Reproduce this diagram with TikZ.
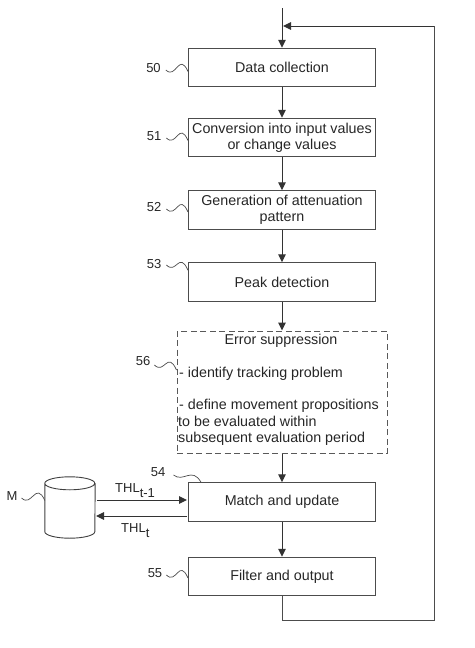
\documentclass[tikz,border=0pt]{standalone}
\usepackage{fontspec}
\setmainfont{Liberation Sans}
\usetikzlibrary{arrows.meta,calc}
\tikzset{
  x=1pt,y=-1pt,
  every node/.style={font=\fontsize{14.3}{16}\selectfont,text=black!85},
  stepbox/.style={draw=black!70,line width=1pt,minimum width=187pt,minimum height=38.5pt,inner sep=0pt,align=center,anchor=center},
  errbox/.style={draw=black!65,line width=1pt,dash pattern=on 6pt off 3.5pt,minimum width=210pt,minimum height=122pt,inner sep=0pt},
  flow/.style={draw=black!80,line width=1pt,-{Triangle[length=8pt,width=7.5pt]}},
  plainline/.style={draw=black!70,line width=1pt},
  squig/.style={draw=black!70,line width=0.7pt},
  reflabel/.style={inner sep=0pt,font=\fontsize{13}{15}\selectfont},
  thl/.style={anchor=base west,inner sep=0pt,font=\fontsize{13}{15}\selectfont},
  store/.style={minimum width=50pt,minimum height=61pt,inner sep=0pt},
  storeline/.style={draw=black!75,line width=0.9pt},
}
\begin{document}
\begin{tikzpicture}
\useasboundingbox (0,0) rectangle (474,648);
\node[stepbox] (b50) at (282,67.5) {Data collection};
\node[stepbox] (b51) at (282,137.5) {Conversion into input values\\or change values};
\node[stepbox] (b52) at (282,210) {Generation of attenuation\\pattern};
\node[stepbox] (b53) at (282,282) {Peak detection};
\node[errbox] (b56) at (282,392) {};
\node[anchor=base] (t56a) at (281,344.5) {Error suppression};
\node[anchor=base west,inner sep=0pt] (t56b) at (179,377) {- identify tracking problem};
\node[anchor=base west,inner sep=0pt] (t56c) at (179,409) {- define movement propositions};
\node[anchor=base west,inner sep=0pt] (t56d) at (178,426) {to be evaluated within};
\node[anchor=base west,inner sep=0pt] (t56e) at (178,442) {subsequent evaluation period};
\node[stepbox] (b54) at (282,502) {Match and update};
\node[stepbox] (b55) at (282,576.5) {Filter and output};
\node[store] (M) at (70,507.5) {};
\draw[storeline] ($(M.north west)+(0,6.5)$) arc[start angle=180,end angle=-180,x radius=25,y radius=6.5]
  ($(M.north west)+(0,6.5)$) -- ($(M.south west)+(0,-6.5)$) arc[start angle=180,end angle=360,x radius=25,y radius=-6.5] -- ($(M.north east)+(0,6.5)$);

\coordinate (start) at (282,8);
\coordinate (join) at (283,26);
\coordinate (c1) at (282,620);
\coordinate (c2) at (434,620);
\coordinate (c3) at (434,26);
\draw[flow] (start) -- (b50.north);
\draw[flow] (b50) -- (b51);
\draw[flow] (b51) -- (b52);
\draw[flow] (b52) -- (b53);
\draw[flow] (b53) -- (b56);
\draw[flow] (b56) -- (b54);
\draw[flow] (b54) -- (b55);
\draw[plainline] (b55.south) -- (c1) -- (c2) -- (c3);
\draw[flow] (c3) -- (join);

\coordinate (mR1) at (97,500);
\coordinate (bL1) at (187,500);
\coordinate (mR2) at (96,516);
\coordinate (bL2) at (187,516);
\draw[flow] (mR1) -- (bL1);
\draw[flow] (bL2) -- (mR2);
\node[thl] (thl1) at (115,492) {THL\raisebox{-5pt}{t-1}};
\node[thl] (thl2) at (121,532) {THL\raisebox{-5pt}{t}};

\node[reflabel] (l50) at (153.5,68) {50};
\node[reflabel] (l51) at (154,136) {51};
\node[reflabel] (l52) at (154,207) {52};
\node[reflabel] (l53) at (154,264) {53};
\node[reflabel] (l56) at (143,361) {56};
\node[reflabel] (l54) at (158,472) {54};
\node[reflabel] (l55) at (155,573) {55};
\node[reflabel] (lM) at (12,496) {M};

\draw[squig] ($(l50.east)+(5,2)$) .. controls +(10,10) and +(-9,-20) .. ($(b50.west)+(0,4)$);
\draw[squig] ($(l51.east)+(5,2)$) .. controls +(10,10) and +(-9,-20) .. ($(b51.west)+(0,3)$);
\draw[squig] ($(l52.east)+(5,2)$) .. controls +(10,10) and +(-9,-20) .. ($(b52.west)+(0,2)$);
\draw[squig] ($(l53.east)+(5,1)$) .. controls +(10,10) and +(-9,-20) .. ($(b53.north west)+(0,8)$);
\draw[squig] ($(l56.east)+(4,4)$) .. controls +(10,10) and +(-9,-20) .. ($(b56.west)+(0,-22)$);
\draw[squig] ($(l54.east)+(8,3)$) .. controls +(10,8) and +(-9,-16) .. ($(b54.north west)+(13,0)$);
\draw[squig] ($(l55.east)+(4,2)$) .. controls +(10,10) and +(-9,-20) .. ($(b55.west)+(0,1.5)$);
\draw[squig] ($(lM.east)+(4,2)$) .. controls +(10,10) and +(-9,-20) .. ($(M.west)+(0,-7)$);
\end{tikzpicture}
\end{document}
